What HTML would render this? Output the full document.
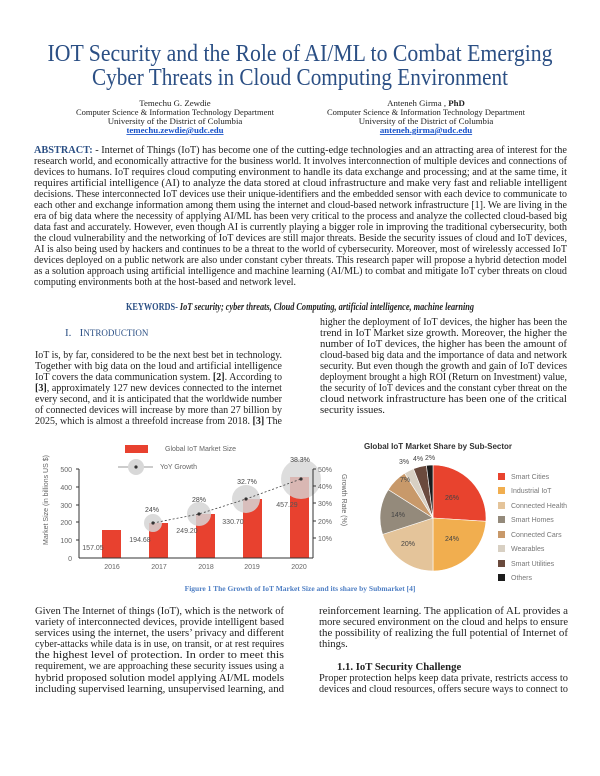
<!DOCTYPE html>
<html><head><meta charset="utf-8"><style>
html,body{margin:0;padding:0;background:#fff}
svg{display:block}
.b{font-family:"Liberation Serif",serif;font-size:10.7px;fill:#222}
.ab{font-family:"Liberation Serif",serif;font-size:10.4px;fill:#222}
.s{font-family:"Liberation Sans",sans-serif;font-size:7px;fill:#666}
.a{font-family:"Liberation Serif",serif;font-size:8.8px;fill:#222;text-anchor:middle}
</style></head><body>
<svg width="600" height="776" viewBox="0 0 600 776" xmlns="http://www.w3.org/2000/svg">
<rect width="600" height="776" fill="#fff"/>
<g font-family="Liberation Serif, serif" font-size="24" fill="#2b4f84" text-anchor="middle">
<text x="300" y="61" textLength="505" lengthAdjust="spacingAndGlyphs">IOT Security and the Role of AI/ML to Combat Emerging</text>
<text x="300" y="85" textLength="416" lengthAdjust="spacingAndGlyphs">Cyber Threats in Cloud Computing Environment</text>
</g>
<text class="a" x="175" y="106">Temechu G. Zewdie</text>
<text class="a" x="175" y="115" textLength="198" lengthAdjust="spacingAndGlyphs">Computer Science &amp; Information Technology Department</text>
<text class="a" x="175" y="124">University of the District of Columbia</text>
<text class="a" x="175" y="133" style="fill:#1a53c9;font-weight:bold;text-decoration:underline">temechu.zewdie@udc.edu</text>
<text class="a" x="426" y="106">Anteneh Girma , <tspan font-weight="bold">PhD</tspan></text>
<text class="a" x="426" y="115" textLength="198" lengthAdjust="spacingAndGlyphs">Computer Science &amp; Information Technology Department</text>
<text class="a" x="426" y="124">University of the District of Columbia</text>
<text class="a" x="426" y="133" style="fill:#1a53c9;font-weight:bold;text-decoration:underline">anteneh.girma@udc.edu</text>

<g class="ab">
<text x="34" y="153" textLength="533" lengthAdjust="spacingAndGlyphs"><tspan fill="#2b4f84" font-weight="bold">ABSTRACT:</tspan> - Internet of Things (IoT) has become one of the cutting-edge technologies and an attracting area of interest for the</text>
<text x="34" y="164" textLength="533" lengthAdjust="spacingAndGlyphs">research world, and economically attractive for the business world. It involves interconnection of multiple devices and connections of</text>
<text x="34" y="175" textLength="533" lengthAdjust="spacingAndGlyphs">devices to humans. IoT requires cloud computing environment to handle its data exchange and processing; and at the same time, it</text>
<text x="34" y="186" textLength="533" lengthAdjust="spacingAndGlyphs">requires artificial intelligence (AI) to analyze the data stored at cloud infrastructure and make very fast and reliable intelligent</text>
<text x="34" y="197" textLength="533" lengthAdjust="spacingAndGlyphs">decisions. These interconnected IoT devices use their unique-identifiers and the embedded sensor with each device to communicate to</text>
<text x="34" y="208" textLength="533" lengthAdjust="spacingAndGlyphs">each other and exchange information among them using the internet and cloud-based network infrastructure [1]. We are living in the</text>
<text x="34" y="219" textLength="533" lengthAdjust="spacingAndGlyphs">era of big data where the necessity of applying AI/ML has been very critical to the process and analyze the collected cloud-based big</text>
<text x="34" y="230" textLength="533" lengthAdjust="spacingAndGlyphs">data fast and accurately. However, even though AI is currently playing a bigger role in improving the traditional cybersecurity, both</text>
<text x="34" y="241" textLength="533" lengthAdjust="spacingAndGlyphs">the cloud vulnerability and the networking of IoT devices are still major threats. Beside the security issues of cloud and IoT devices,</text>
<text x="34" y="252" textLength="533" lengthAdjust="spacingAndGlyphs">AI is also being used by hackers and continues to be a threat to the world of cybersecurity. Moreover, most of wirelessly accessed IoT</text>
<text x="34" y="263" textLength="533" lengthAdjust="spacingAndGlyphs">devices deployed on a public network are also under constant cyber threats. This research paper will propose a hybrid detection model</text>
<text x="34" y="274" textLength="533" lengthAdjust="spacingAndGlyphs">as a solution approach using artificial intelligence and machine learning (AI/ML) to combat and mitigate IoT cyber threats on cloud</text>
<text x="34" y="285" textLength="262" lengthAdjust="spacingAndGlyphs">computing environments both at the host-based and network level.</text>
</g>
<g class="b">
<text x="300" y="310" text-anchor="middle" font-weight="bold" font-style="italic" font-size="10.5" textLength="348" lengthAdjust="spacingAndGlyphs"><tspan fill="#2b4f84" font-style="normal">KEYWORDS-</tspan> IoT security; cyber threats, Cloud Computing, artificial intelligence, machine learning</text>

<text x="65" y="336" fill="#2b4f84" font-size="11">I.&#160;&#160;&#160;I<tspan font-size="9">NTRODUCTION</tspan></text>

<text x="35" y="358" textLength="247" lengthAdjust="spacingAndGlyphs">IoT is, by far, considered to be the next best bet in technology.</text>
<text x="35" y="369" textLength="247" lengthAdjust="spacingAndGlyphs">Together with big data on the loud and artificial intelligence</text>
<text x="35" y="380" textLength="247" lengthAdjust="spacingAndGlyphs">IoT covers the data communication system. <tspan font-weight="bold">[2]</tspan>. According to</text>
<text x="35" y="391" textLength="247" lengthAdjust="spacingAndGlyphs"><tspan font-weight="bold">[3]</tspan>, approximately 127 new devices connected to the internet</text>
<text x="35" y="402" textLength="247" lengthAdjust="spacingAndGlyphs">every second, and it is anticipated that the worldwide number</text>
<text x="35" y="413" textLength="247" lengthAdjust="spacingAndGlyphs">of connected devices will increase by more than 27 billion by</text>
<text x="35" y="424" textLength="247" lengthAdjust="spacingAndGlyphs">2025, which is almost a threefold increase from 2018. <tspan font-weight="bold">[3]</tspan> The</text>

<text x="320" y="325" textLength="247" lengthAdjust="spacingAndGlyphs">higher the deployment of IoT devices, the higher has been the</text>
<text x="320" y="336" textLength="247" lengthAdjust="spacingAndGlyphs">trend in IoT Market size growth. Moreover, the higher the</text>
<text x="320" y="347" textLength="247" lengthAdjust="spacingAndGlyphs">number of IoT devices, the higher has been the amount of</text>
<text x="320" y="358" textLength="247" lengthAdjust="spacingAndGlyphs">cloud-based big data and the importance of data and network</text>
<text x="320" y="369" textLength="247" lengthAdjust="spacingAndGlyphs">security. But even though the growth and gain of IoT devices</text>
<text x="320" y="380" textLength="247" lengthAdjust="spacingAndGlyphs">deployment brought a high ROI (Return on Investment) value,</text>
<text x="320" y="391" textLength="247" lengthAdjust="spacingAndGlyphs">the security of IoT devices and the constant cyber threat on the</text>
<text x="320" y="402" textLength="247" lengthAdjust="spacingAndGlyphs">cloud network infrastructure has been one of the critical</text>
<text x="320" y="413" textLength="65" lengthAdjust="spacingAndGlyphs">security issues.</text>
</g>

<!-- Bar chart -->
<g>
<rect x="125" y="445" width="23" height="8" fill="#e8412f"/>
<text class="s" x="165" y="451" font-size="6.5">Global IoT Market Size</text>
<line x1="118" y1="467" x2="153" y2="467" stroke="#999" stroke-width="1"/>
<circle cx="136" cy="467" r="8" fill="#d8d8d8"/>
<circle cx="136" cy="467" r="1.6" fill="#333"/>
<text class="s" x="160" y="469" font-size="6.5">YoY Growth</text>

<rect x="102" y="530" width="19" height="28" fill="#e8412f"/>
<rect x="149" y="523" width="19" height="35" fill="#e8412f"/>
<rect x="196" y="514" width="19" height="44" fill="#e8412f"/>
<rect x="243" y="499" width="19" height="59" fill="#e8412f"/>
<rect x="290" y="477" width="19" height="81" fill="#e8412f"/>

<circle cx="153" cy="523" r="9" fill="#d5d5d5" opacity="0.85"/>
<circle cx="199" cy="514" r="12" fill="#d5d5d5" opacity="0.85"/>
<circle cx="246" cy="499" r="14" fill="#d5d5d5" opacity="0.85"/>
<circle cx="301" cy="479" r="20" fill="#d5d5d5" opacity="0.8"/>
<polyline points="153,523 199,514 246,499 301,479" fill="none" stroke="#444" stroke-width="0.8" stroke-dasharray="2,2"/>
<g fill="#333"><circle cx="153" cy="523" r="1.6"/><circle cx="199" cy="514" r="1.6"/><circle cx="246" cy="499" r="1.6"/><circle cx="301" cy="479" r="1.6"/></g>

<g class="s" font-size="7.5" text-anchor="middle" style="fill:#444">
<text x="152" y="512">24%</text><text x="199" y="502">28%</text><text x="247" y="484">32.7%</text><text x="300" y="462">38.3%</text>
</g>
<g class="s" font-size="7" text-anchor="middle" style="fill:#555">
<text x="93" y="550">157.05</text><text x="140" y="542">194.68</text><text x="187" y="533">249.20</text><text x="233" y="524">330.70</text><text x="287" y="507">457.29</text>
</g>
<g stroke="#333" stroke-width="1">
<line x1="79" y1="469" x2="79" y2="558"/>
<line x1="79" y1="558" x2="313" y2="558"/>
<line x1="313" y1="469" x2="313" y2="558"/>
<line x1="76" y1="469" x2="79" y2="469"/><line x1="76" y1="487" x2="79" y2="487"/><line x1="76" y1="505" x2="79" y2="505"/><line x1="76" y1="522" x2="79" y2="522"/><line x1="76" y1="540" x2="79" y2="540"/>
<line x1="313" y1="469" x2="316" y2="469"/><line x1="313" y1="486" x2="316" y2="486"/><line x1="313" y1="503" x2="316" y2="503"/><line x1="313" y1="521" x2="316" y2="521"/><line x1="313" y1="538" x2="316" y2="538"/>
</g>
<g class="s" text-anchor="end">
<text x="72" y="472">500</text><text x="72" y="490">400</text><text x="72" y="508">300</text><text x="72" y="525">200</text><text x="72" y="543">100</text><text x="72" y="561">0</text>
</g>
<g class="s">
<text x="318" y="472">50%</text><text x="318" y="489">40%</text><text x="318" y="506">30%</text><text x="318" y="524">20%</text><text x="318" y="541">10%</text>
</g>
<g class="s" text-anchor="middle" font-size="6">
<text x="112" y="569">2016</text><text x="159" y="569">2017</text><text x="206" y="569">2018</text><text x="252" y="569">2019</text><text x="299" y="569">2020</text>
</g>
<text class="s" transform="translate(48,500) rotate(-90)" text-anchor="middle" font-size="8">Market Size (in billions US $)</text>
<text class="s" transform="translate(342,500) rotate(90)" text-anchor="middle" font-size="8">Growth Rate (%)</text>
</g>

<!-- Pie -->
<text x="438" y="449" text-anchor="middle" font-family="Liberation Sans, sans-serif" font-weight="bold" font-size="8" fill="#333">Global IoT Market Share by Sub-Sector</text>
<g stroke="#fff" stroke-width="0.6">
<path d="M433,518 L433,465 A53,53 0 0 1 485.9,521.3 Z" fill="#e8432e"/>
<path d="M433,518 L485.9,521.3 A53,53 0 0 1 433,571 Z" fill="#f1ae4f"/>
<path d="M433,518 L433,571 A53,53 0 0 1 382.6,534.4 Z" fill="#e4c49a"/>
<path d="M433,518 L382.6,534.4 A53,53 0 0 1 388.3,489.6 Z" fill="#948a7b"/>
<path d="M433,518 L388.3,489.6 A53,53 0 0 1 404.6,473.3 Z" fill="#c8996a"/>
<path d="M433,518 L404.6,473.3 A53,53 0 0 1 413.5,468.7 Z" fill="#d8d0c3"/>
<path d="M433,518 L413.5,468.7 A53,53 0 0 1 426.4,465.4 Z" fill="#6a4a3d"/>
<path d="M433,518 L426.4,465.4 A53,53 0 0 1 433,465 Z" fill="#1c1c1c"/>
</g>
<g class="s" text-anchor="middle" style="fill:#444">
<text x="452" y="500">26%</text><text x="452" y="541">24%</text><text x="408" y="546">20%</text><text x="398" y="517">14%</text><text x="405" y="482">7%</text><text x="404" y="464">3%</text><text x="418" y="461">4%</text><text x="430" y="460">2%</text>
</g>
<g>
<rect x="498" y="473" width="7" height="7" fill="#e8432e"/>
<rect x="498" y="487" width="7" height="7" fill="#f1ae4f"/>
<rect x="498" y="502" width="7" height="7" fill="#e4c49a"/>
<rect x="498" y="516" width="7" height="7" fill="#948a7b"/>
<rect x="498" y="531" width="7" height="7" fill="#c8996a"/>
<rect x="498" y="545" width="7" height="7" fill="#d8d0c3"/>
<rect x="498" y="560" width="7" height="7" fill="#6a4a3d"/>
<rect x="498" y="574" width="7" height="7" fill="#1c1c1c"/>
</g>
<g class="s" font-size="6.5" style="fill:#777">
<text x="511" y="479">Smart Cities</text><text x="511" y="493">Industrial IoT</text><text x="511" y="508">Connected Health</text><text x="511" y="522">Smart Homes</text><text x="511" y="537">Connected Cars</text><text x="511" y="551">Wearables</text><text x="511" y="566">Smart Utilities</text><text x="511" y="580">Others</text>
</g>

<text x="300" y="591" text-anchor="middle" font-family="Liberation Serif, serif" font-weight="bold" font-size="7.5" fill="#4f7fc4">Figure 1  The Growth of IoT Market Size and its share by Submarket [4]</text>

<g class="b">
<text x="35" y="614" textLength="249" lengthAdjust="spacingAndGlyphs">Given The Internet of things (IoT), which is the network of</text>
<text x="35" y="625" textLength="249" lengthAdjust="spacingAndGlyphs">variety of interconnected devices, provide intelligent based</text>
<text x="35" y="636" textLength="249" lengthAdjust="spacingAndGlyphs">services using the internet, the users’ privacy and different</text>
<text x="35" y="647" textLength="249" lengthAdjust="spacingAndGlyphs">cyber-attacks while data is in use, on transit, or at rest requires</text>
<text x="35" y="658" textLength="249" lengthAdjust="spacingAndGlyphs">the highest level of protection.  In order to meet this</text>
<text x="35" y="669" textLength="249" lengthAdjust="spacingAndGlyphs">requirement, we are approaching these security issues using a</text>
<text x="35" y="681" textLength="249" lengthAdjust="spacingAndGlyphs">hybrid proposed solution model applying AI/ML models</text>
<text x="35" y="692" textLength="249" lengthAdjust="spacingAndGlyphs">including supervised learning, unsupervised learning, and</text>

<text x="319" y="614" textLength="249" lengthAdjust="spacingAndGlyphs">reinforcement learning. The application of AL provides a</text>
<text x="319" y="625" textLength="249" lengthAdjust="spacingAndGlyphs">more secured environment on the cloud and helps to ensure</text>
<text x="319" y="636" textLength="249" lengthAdjust="spacingAndGlyphs">the possibility of realizing the full potential of Internet of</text>
<text x="319" y="647">things.</text>
<text x="337" y="670" font-weight="bold">1.1.  IoT Security Challenge</text>
<text x="319" y="681" textLength="249" lengthAdjust="spacingAndGlyphs">Proper protection helps keep data private, restricts access to</text>
<text x="319" y="692" textLength="249" lengthAdjust="spacingAndGlyphs">devices and cloud resources, offers secure ways to connect to</text>
</g>
</svg>
</body></html>
